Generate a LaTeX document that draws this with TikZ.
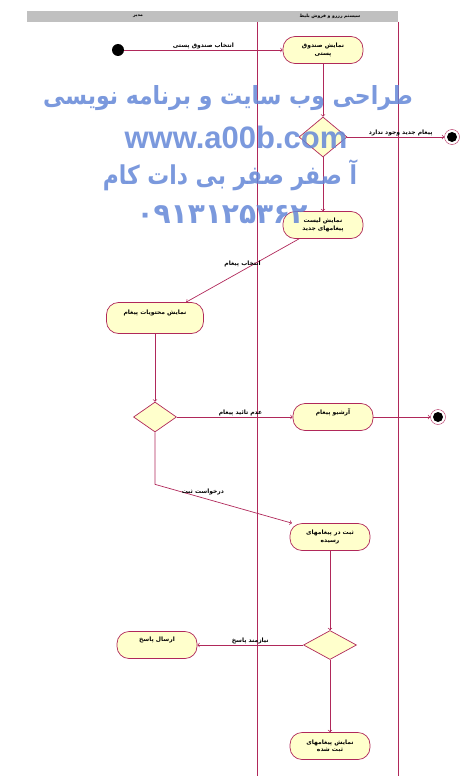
\documentclass[tikz,border=0pt]{standalone}
\usepackage{fontspec}
\usepackage{graphicx}
\usetikzlibrary{shapes.geometric}
\TeXXeTstate=1
\newfontfamily\arabicfont[Script=Arabic]{DejaVu Sans}
\newfontfamily\markfont{Liberation Sans}
\newcommand{\fa}[1]{{\arabicfont\beginR #1\endR}}
\definecolor{umlline}{RGB}{176,40,90}
\definecolor{umlfill}{RGB}{255,255,204}
\definecolor{markblue}{RGB}{100,135,215}
\definecolor{lanegray}{RGB}{192,192,192}
\tikzset{
  act/.style={draw=umlline, fill=umlfill, line width=0.7pt, rounded corners=12pt,
    minimum width=80pt, minimum height=27pt, align=center, inner sep=2pt,
    font=\fontsize{6}{7.5}\selectfont\bfseries},
  acttop/.style={act, text depth=11pt},
  dec/.style={draw=umlline, fill=umlfill, line width=0.7pt, diamond, inner sep=0pt},
  startnode/.style={circle, fill=black, minimum size=12pt, inner sep=0pt},
  endnode/.style={circle, draw=umlline, fill=white, minimum size=15pt, inner sep=0pt,
    path picture={\fill[black] (path picture bounding box.center) circle (5pt);}},
  flow/.style={draw=umlline, line width=0.7pt, ->},
  lane/.style={draw=umlline, line width=0.9pt},
  lbl/.style={font=\fontsize{6}{7}\selectfont\bfseries, inner sep=1pt},
  lanelbl/.style={font=\fontsize{4.5}{5}\selectfont\bfseries, inner sep=0pt},
  wmark/.style={text=markblue, text opacity=0.85, inner sep=0pt}
}
\begin{document}
\begin{tikzpicture}[x=1pt, y=-1pt]
\useasboundingbox (0,0) rectangle (474,776);
% swimlanes
\fill[lanegray] (27,11) rectangle (398,22);
\node[lanelbl] (lane1) at (138,16.5) {\fa{مدیر}};
\node[lanelbl] (lane2) at (330,16.5) {\fa{سیستم رزرو و فروش بلیط}};
\draw[lane] (257.5,22) -- (257.5,776);
\draw[lane] (398.5,22) -- (398.5,776);
% activities
\node[startnode] (start) at (118,50) {};
\node[act] (mailbox) at (323,50) {\fa{نمایش صندوق}\\\fa{پستی}};
\node[dec, minimum width=48pt, minimum height=40pt] (chk) at (323,137) {};
\node[endnode] (end1) at (452,137) {};
\node[act] (newlist) at (323,225) {\fa{نمایش لیست}\\\fa{پیغامهای جدید}};
\node[acttop, minimum width=97pt, minimum height=31pt] (content) at (155,318) {\fa{نمایش محتویات پیغام}};
\node[dec, minimum width=43pt, minimum height=30pt] (confirm) at (155,417) {};
\node[acttop] (archive) at (333,417) {\fa{آرشیو پیغام}};
\node[endnode] (end2) at (438,417) {};
\node[act] (inbox) at (330,537) {\fa{ثبت در پیغامهای}\\\fa{رسیده}};
\node[dec, minimum width=53pt, minimum height=29pt] (answer) at (330,645) {};
\node[acttop] (reply) at (157,645) {\fa{ارسال پاسخ}};
\node[act] (saved) at (330,746) {\fa{نمایش پیغامهای}\\\fa{ثبت شده}};
% transitions
\draw[flow] (start) -- node[lbl, above] {\fa{انتخاب صندوق پستی}} (mailbox);
\draw[flow] (mailbox) -- (chk);
\draw[flow] (chk) -- node[lbl, above, pos=0.55] {\fa{پیغام جدید وجود ندارد}} (end1);
\draw[flow] (chk) -- (newlist);
\draw[flow] (newlist.210) -- node[lbl, above=2pt] {\fa{انتخاب پیغام}} (content.27);
\draw[flow] (content) -- (confirm);
\draw[flow] (confirm) -- node[lbl, above, pos=0.55] {\fa{عدم تائید پیغام}} (archive);
\draw[flow] (archive) -- (end2);
\draw[flow] (confirm.south) -- ++(0,52) coordinate (turn) -- node[lbl, above=2pt, pos=0.35] {\fa{درخواست ثبت}} (inbox.160);
\draw[flow] (inbox) -- (answer);
\draw[flow] (answer) -- node[lbl, above] {\fa{نیازمند پاسخ}} (reply);
\draw[flow] (answer) -- (saved);
% watermark
\node[wmark, font=\arabicfont\bfseries\fontsize{25}{25}\selectfont] (wm1) at (228,98) {\scalebox{0.88}[1]{\beginR طراحی وب سایت و برنامه نویسی\endR}};
\node[wmark, font=\markfont\bfseries\fontsize{31}{31}\selectfont] (wm2) at (236,137) {www.a00b.com};
\node[wmark, font=\arabicfont\bfseries\fontsize{26}{26}\selectfont] (wm3) at (230,175) {\scalebox{0.84}[1]{\beginR آ صفر صفر بی دات کام\endR}};
\node[wmark, font=\arabicfont\bfseries\fontsize{28}{28}\selectfont] (wm4) at (222,215) {۰۹۱۳۱۲۵۳۶۲};
\end{tikzpicture}
\end{document}
